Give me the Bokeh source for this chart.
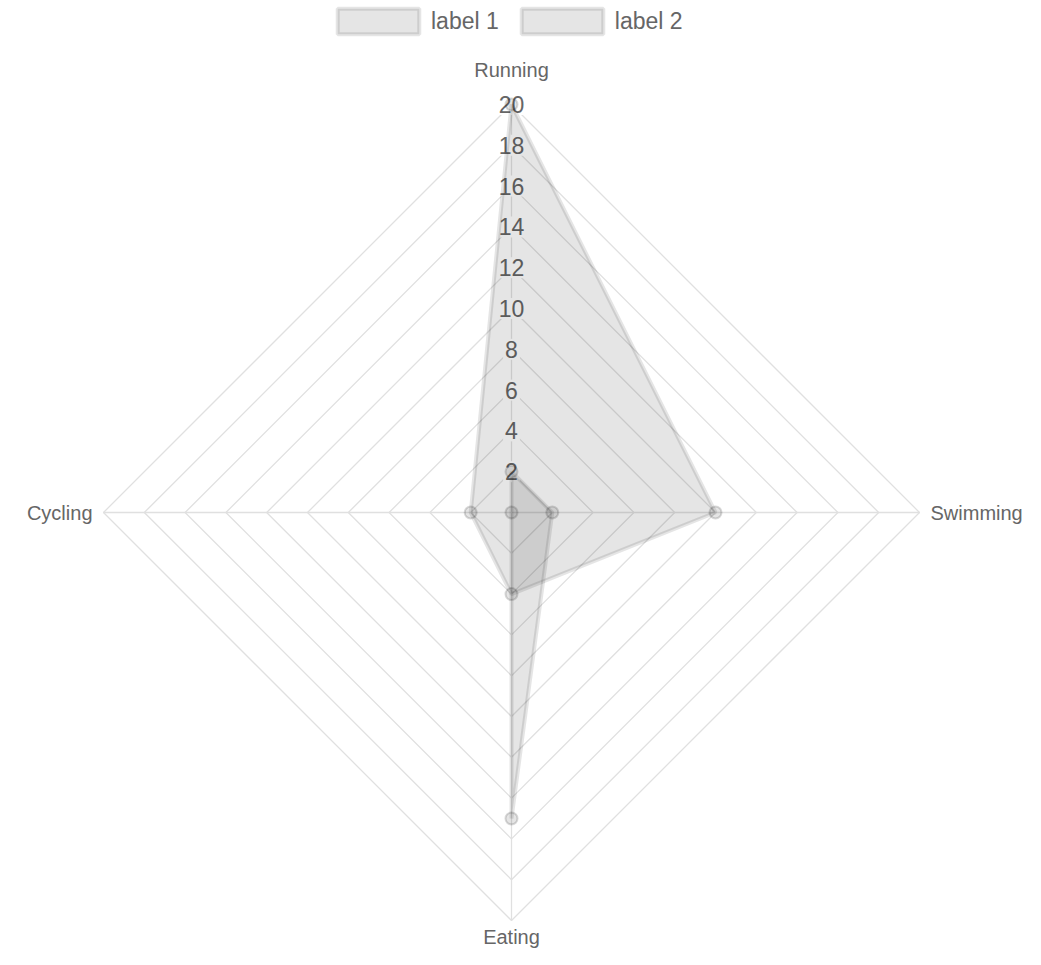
import math

from bokeh.core.properties import value
from bokeh.embed import file_html
from bokeh.models import ColumnDataSource, Legend, LegendItem, Range1d
from bokeh.plotting import figure
from bokeh.resources import INLINE

# radar data
axes_labels = ["Running", "Swimming", "Eating", "Cycling"]
label_1 = [20, 10, 4, 2]
label_2 = [2, 2, 15, 0]
tick_values = [2, 4, 6, 8, 10, 12, 14, 16, 18, 20]
scale_max = 20

FONT = "Liberation Sans"
TEXT = "#666666"
GRID = "#e0e0e0"

# spokes clockwise from the top
angles = [math.pi / 2 - i * 2 * math.pi / len(axes_labels) for i in range(len(axes_labels))]


def to_xy(vals):
    xs = [v * math.cos(a) for v, a in zip(vals, angles)]
    ys = [v * math.sin(a) for v, a in zip(vals, angles)]
    return xs, ys


W, H = 1025, 949
px = 20.4  # pixels per unit
cx, cy = 511, 512  # centre in canvas pixels from top-left

p = figure(width=W, height=H, output_backend="svg", toolbar_location=None,
           x_range=Range1d(-cx / px, (W - cx) / px),
           y_range=Range1d(-(H - cy) / px, cy / px),
           min_border=0)
p.axis.visible = False
p.grid.visible = False
p.outline_line_color = None
p.background_fill_color = "white"

# grid diamonds
for t in tick_values:
    gx, gy = to_xy([t] * len(axes_labels))
    p.patch(gx + gx[:1], gy + gy[:1], fill_color=None, line_color=GRID,
            line_width=1.3)

# angle lines
for a in angles:
    p.line([0, scale_max * math.cos(a)], [0, scale_max * math.sin(a)],
           line_color=GRID, line_width=1.3)

# tick labels with white backdrop
tick_src = ColumnDataSource(dict(x=[0] * len(tick_values), y=tick_values,
                                 t=[str(v) for v in tick_values]))
p.text("x", "y", text="t", source=tick_src, text_align="center",
       text_baseline="middle", text_font=value(FONT), text_font_size="23px",
       text_color=TEXT, background_fill_color="white", padding=2)

# datasets
renderers = []
for vals in (label_1, label_2):
    xs, ys = to_xy(vals)
    r = p.patch(xs, ys, fill_color="black", fill_alpha=0.1,
                line_color="black", line_alpha=0.1, line_width=4)
    p.scatter(xs, ys, size=12, fill_color="black", fill_alpha=0.1,
              line_color="black", line_alpha=0.15, line_width=2)
    renderers.append(r)

# point labels
lx, ly = to_xy([scale_max] * len(axes_labels))
offs = [(0, -35, "center"), (11, 0, "left"), (0, 16, "center"), (-11, 0, "right")]
for name, x, y, (dx, dy, al) in zip(axes_labels, lx, ly, offs):
    p.text([x], [y], text=[name], x_offset=dx, y_offset=dy, text_align=al,
           text_baseline="middle", text_font=value(FONT), text_font_size="20px",
           text_color=TEXT)

# legend glyphs are drawn at 80% of the glyph box
legend = Legend(items=[LegendItem(label="label 1", renderers=[renderers[0]]),
                       LegendItem(label="label 2", renderers=[renderers[1]])],
                orientation="horizontal", location=(327, 912),
                glyph_width=102, glyph_height=32, label_standoff=2, spacing=12,
                padding=0, margin=0, border_line_color=None,
                background_fill_alpha=0, label_text_font=FONT,
                label_text_font_size="23px", label_text_color=TEXT,
                label_text_baseline="middle")
p.add_layout(legend)

open("out.html", "w").write(file_html(p, INLINE))
